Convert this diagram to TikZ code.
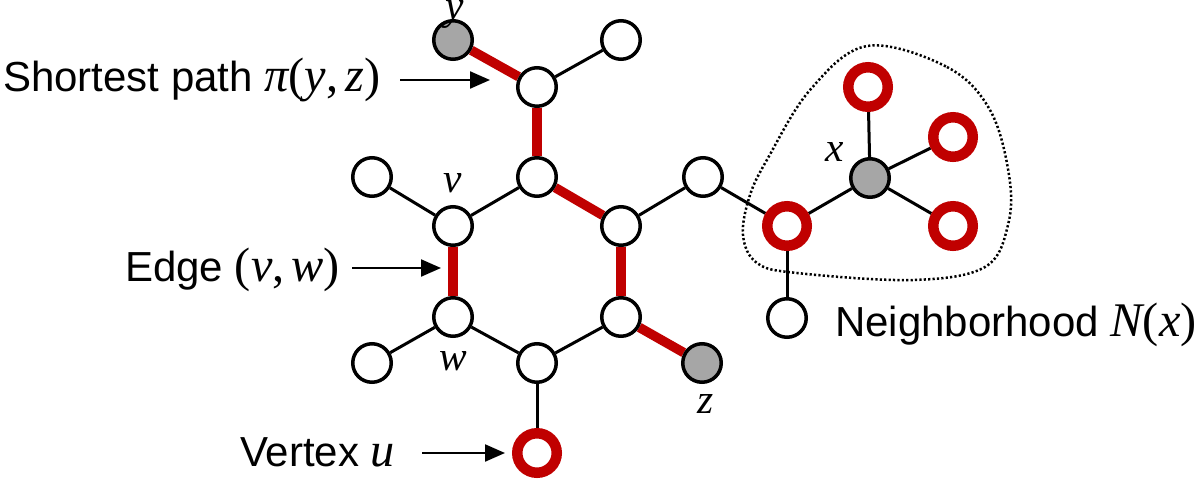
\documentclass[tikz,border=0pt]{standalone}
\usepackage{fontspec}
\setmainfont{Liberation Sans}
\newfontfamily\vfnt[Scale=1.15]{Liberation Serif}
\newcommand\mv[1]{{\vfnt\itshape #1}}
\newcommand\pr[1]{{\vfnt #1}}
\newcommand\cm{\pr{,}\hspace{7pt}}
\usetikzlibrary{arrows.meta}
\definecolor{myred}{RGB}{192,0,0}
\definecolor{mygray}{RGB}{166,166,166}
\pgfdeclarelayer{bg}
\pgfsetlayers{bg,main}
\begin{document}
\begin{tikzpicture}[x=1pt,y=-1pt,
  vtx/.style={circle,draw=black,line width=3.5pt,fill=white,minimum size=38.5pt,inner sep=0pt},
  gvtx/.style={vtx,fill=mygray},
  rvtx/.style={circle,draw=myred,line width=10.5pt,fill=white,minimum size=39.5pt,inner sep=0pt},
  blk/.style={draw=black,line width=3pt},
  redge/.style={draw=myred,line width=9.5pt},
  lbl/.style={font=\fontsize{42}{50}\selectfont,anchor=base west,inner sep=0pt},
  vl/.style={font=\fontsize{36}{44}\selectfont\vfnt\itshape,inner sep=0pt},
  pointer/.style={draw=black,line width=2.2pt,-{Triangle[length=20pt,width=17pt]}}
]
\useasboundingbox (0,0) rectangle (1200,479);

% vertices
\node[gvtx] (y) at (453,40) {};
\node[vtx] (t) at (621,40) {};
\node[vtx] (p) at (537,87) {};
\node[vtx] (a) at (537,177) {};
\node[vtx] (v) at (453,226) {};
\node[vtx] (l1) at (372,177) {};
\node[vtx] (b) at (621,226) {};
\node[vtx] (c) at (703,177) {};
\node[rvtx] (n) at (787,226) {};
\node[gvtx] (x) at (870,178) {};
\node[rvtx] (n1) at (868,87) {};
\node[rvtx] (n2) at (953,137) {};
\node[rvtx] (n3) at (953,226) {};
\node[vtx] (d) at (787,318) {};
\node[vtx] (w) at (453,317) {};
\node[vtx] (l2) at (372,363) {};
\node[vtx] (e) at (537,363) {};
\node[vtx] (f) at (621,317) {};
\node[gvtx] (z) at (702,363) {};
\node[rvtx] (u) at (537,453) {};

\begin{pgfonlayer}{bg}
  \draw[blk] (p) -- (t);
  \draw[blk] (a) -- (v);
  \draw[blk] (v) -- (l1);
  \draw[blk] (w) -- (l2);
  \draw[blk] (w) -- (e);
  \draw[blk] (e) -- (f);
  \draw[blk] (e) -- (u);
  \draw[blk] (b) -- (c);
  \draw[blk] (c) -- (n);
  \draw[blk] (n) -- (x);
  \draw[blk] (n) -- (d);
  \draw[blk] (x) -- (n1);
  \draw[blk] (x) -- (n2);
  \draw[blk] (x) -- (n3);
  \draw[redge] (y) -- (p);
  \draw[redge] (p) -- (a);
  \draw[redge] (a) -- (b);
  \draw[redge] (v) -- (w);
  \draw[redge] (b) -- (f);
  \draw[redge] (f) -- (z);
  % neighborhood outline
  \draw[line width=2.5pt,dash pattern=on 2.2pt off 2.2pt]
    plot[smooth cycle,tension=0.6] coordinates {(867,46) (947,67) (990,110) (1009,175) (1008,225) (985,267) (913,280) (797,273) (757,263) (743,235) (750,195) (768,158) (810,90)};
\end{pgfonlayer}

% vertex labels
\node[vl] (ly) at (455,14) {y};
\node[vl] (lv) at (453,183) {v};
\node[vl] (lw) at (453,361) {w};
\node[vl] (lz) at (706,404) {z};
\node[vl] (lx) at (835,152) {x};

% annotations
\node[lbl] (tsp) at (3,91) {Shortest path \mv{π}\pr{(}\mv{y}\cm\mv{z}\pr{)}};
\coordinate (sp1) at (400,80);
\coordinate (sp2) at (490,80);
\draw[pointer] (sp1) -- (sp2);

\node[lbl] (tedge) at (125,281) {Edge \pr{(}\mv{v}\cm\mv{w}\pr{)}};
\coordinate (ed1) at (352,268);
\coordinate (ed2) at (441,268);
\draw[pointer] (ed1) -- (ed2);

\node[lbl] (tvert) at (240,466) {Vertex \mv{u}};
\coordinate (ve1) at (422,453);
\coordinate (ve2) at (505,453);
\draw[pointer] (ve1) -- (ve2);

\node[lbl] (tnb) at (835,336) {Neighborhood \mv{N}\pr{(}\mv{x}\pr{)}};
\end{tikzpicture}
\end{document}
